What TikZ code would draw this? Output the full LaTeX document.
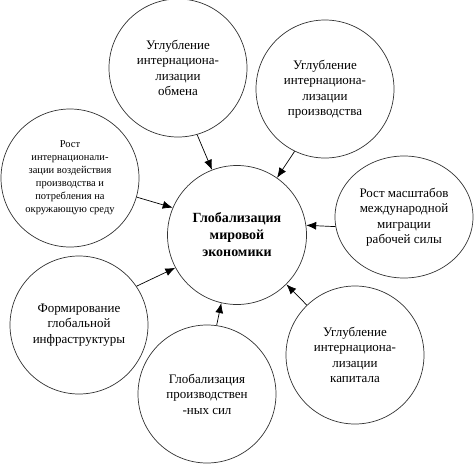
\documentclass[tikz,border=0pt]{standalone}
\usepackage{fontspec}
\setmainfont{Liberation Serif}
\usetikzlibrary{positioning, arrows.meta, shapes.geometric}

\begin{document}
\begin{tikzpicture}[
  x=1pt, y=-1pt,
  factor/.style={draw=black!80, line width=0.7pt, circle, minimum size=138pt,
                 inner sep=0pt, align=center, font=\fontsize{13}{15.5}\selectfont},
  core/.style={factor, minimum size=139pt,
               font=\bfseries\fontsize{14}{17}\selectfont},
  arr/.style={-{Latex[length=10pt, width=8pt]}, line width=0.7pt}
]
\useasboundingbox (0,0) rectangle (474,464);

% Centre
\node[core] (glob) at (237,235) {Глобализация\\мировой\\экономики};

% Surrounding factors
\node[factor] (obmen) at (178,68)
  {Углубление\\интернациона-\\лизации\\обмена};
\node[factor] (proizv) at (325,89)
  {Углубление\\интернациона-\\лизации\\производства};
\node[factor, ellipse, minimum width=138pt, minimum height=122pt]
  (migr) at (404,217) {Рост масштабов\\международной\\миграции\\рабочей силы};
\node[factor] (kapit) at (355,355)
  {Углубление\\интернациона-\\лизации\\капитала};
\node[factor] (sily) at (207,394)
  {Глобализация\\производствен\\-ных сил};
\node[factor] (infra) at (79,325)
  {Формирование\\глобальной\\инфраструктуры};
\node[factor, font=\fontsize{10.5}{13}\selectfont] (sreda) at (70,178)
  {Рост\\интернационали-\\зации воздействия\\производства и\\потребления на\\окружающую среду};

% Arrows
\draw[arr] (obmen.-74) -- (glob.111);
\draw[arr] (proizv.-116) -- (glob.55);
\draw[arr] (migr.188) -- (glob.8);
\draw[arr] (kapit.134) -- (glob.-45);
\draw[arr] (sily.82) -- (glob.-103);
\draw[arr] (infra.34) -- (glob.208);
\draw[arr] (sreda.-16) -- (glob.157);

\end{tikzpicture}
\end{document}
